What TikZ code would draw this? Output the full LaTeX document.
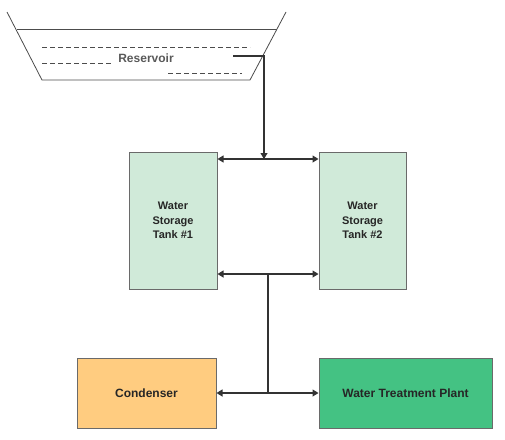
\documentclass[tikz,border=0pt]{standalone}
\usepackage{fontspec}
\setmainfont{Liberation Sans}
\usetikzlibrary{arrows.meta}
\definecolor{tankfill}{HTML}{D0EAD9}
\definecolor{condfill}{HTML}{FFCC80}
\definecolor{wtpfill}{HTML}{44C283}
\definecolor{edge}{HTML}{6A6A6A}
\definecolor{wire}{HTML}{333333}
\tikzset{
  box/.style={draw=edge, line width=1pt, inner sep=0pt, font=\bfseries\fontsize{11}{14.5}\selectfont, text=black!85, align=center},
  wireline/.style={draw=wire, line width=1.1pt},
  tip/.style={-{Triangle[length=6pt,width=7pt]}},
  res/.style={draw=black!70, line width=0.8pt},
  resdash/.style={draw=black!70, line width=0.8pt, dash pattern=on 5pt off 3pt},
}
\begin{document}
\begin{tikzpicture}[x=1pt,y=-1pt]
\useasboundingbox (0,0) rectangle (505,439);
% reservoir
\draw[res] (7,12) -- (42,80) -- (250,80) -- (286,12);
\draw[res] (17,29) -- (277,29);
\draw[resdash] (42,47) -- (250,47);
\draw[resdash] (42,63) -- (112,63);
\draw[resdash] (168,73) -- (242,73);
\node[font=\bfseries\fontsize{12}{14}\selectfont, text=black!65] (reslabel) at (146,58) {Reservoir};
\coordinate (rs) at (233,56);
\coordinate (rc) at (264,56);
% tanks
\node[box, fill=tankfill, minimum width=88pt, minimum height=137pt] (t1) at (173,220.5) {Water\\Storage\\Tank \#1};
\node[box, fill=tankfill, minimum width=87pt, minimum height=137pt] (t2) at (362.5,220.5) {Water\\Storage\\Tank \#2};
\node[box, fill=condfill, minimum width=139pt, minimum height=70pt, font=\bfseries\fontsize{12}{14}\selectfont] (cond) at (146.5,393) {Condenser};
\node[box, fill=wtpfill, minimum width=173pt, minimum height=70pt, font=\bfseries\fontsize{12}{14}\selectfont] (wtp) at (405.5,393) {Water Treatment Plant};
% connectors
\coordinate (top) at (264,159);
\coordinate (low) at (268,274);
\coordinate (bot) at (268,393);
\draw[wireline] (rs) -- (rc) -- ([yshift=-0.6pt]top);
\draw[wireline, tip] (rc) -- (top);
\draw[wireline, tip] (top) -- (t1.east |- top);
\draw[wireline, tip] (top) -- (t2.west |- top);
\draw[wireline, tip] (low) -- (t1.east |- low);
\draw[wireline, tip] (low) -- (t2.west |- low);
\draw[wireline] (low) -- (bot);
\draw[wireline, tip] (bot) -- (cond.east);
\draw[wireline, tip] (bot) -- (wtp.west);
\end{tikzpicture}
\end{document}
